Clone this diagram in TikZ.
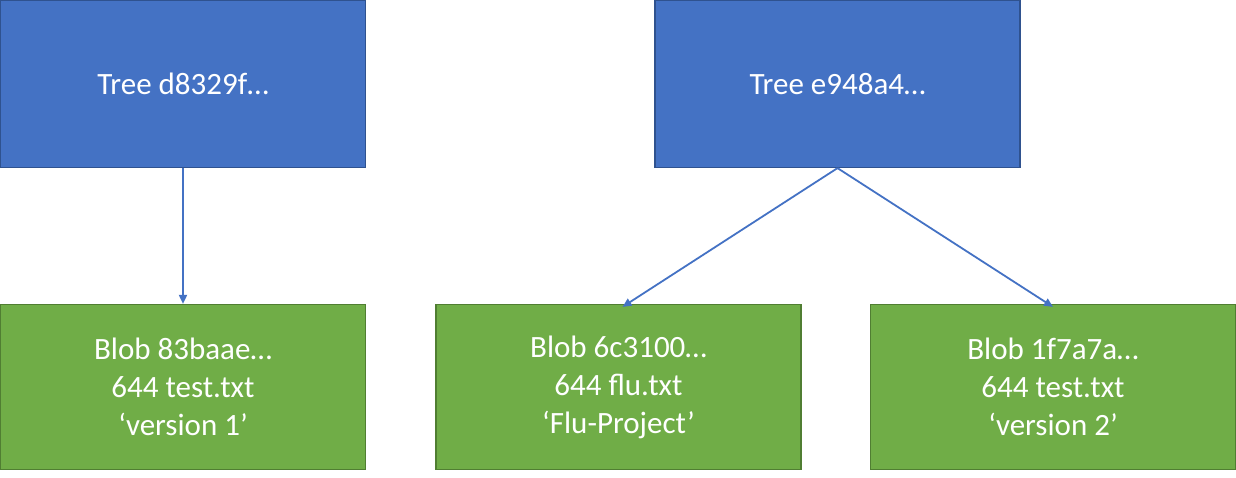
\documentclass[tikz,border=0pt]{standalone}
\usepackage{fontspec}
\setmainfont{Carlito}
\usetikzlibrary{arrows.meta}
\definecolor{tb}{HTML}{4472C4}\definecolor{tbd}{HTML}{2F528F}
\definecolor{gb}{HTML}{70AD47}\definecolor{gbd}{HTML}{507E32}
\begin{document}
\begin{tikzpicture}[x=1pt,y=-1pt,
 tree/.style={draw=tbd,fill=tb,line width=1.2pt,text=white,minimum width=365pt,minimum height=167pt,font=\fontsize{31}{38}\selectfont,inner sep=0pt,align=center},
 blob/.style={draw=gbd,fill=gb,line width=1.2pt,text=white,minimum width=365pt,minimum height=165pt,font=\fontsize{31}{38}\selectfont,inner sep=0pt,align=center},
 arr/.style={draw=tb,line width=1.8pt,-{Triangle[length=9pt,width=8pt]}}]
\useasboundingbox (0,0) rectangle (1236,477);
\node[tree] (t1) at (183,84) {Tree d8329f…};
\node[tree] (t2) at (837.5,84) {Tree e948a4…};
\node[blob] (b1) at (183,387) {Blob 83baae…\\644 test.txt\\‘version 1’};
\node[blob] (b2) at (618.5,387) {Blob 6c3100…\\644 flu.txt\\‘Flu-Project’};
\node[blob] (b3) at (1053,387) {Blob 1f7a7a…\\644 test.txt\\‘version 2’};
\draw[arr] (t1.south) -- (b1.north);
\draw[arr] (t2.south) -- ([xshift=4pt,yshift=-3pt]b2.north);
\draw[arr] (t2.south) -- ([yshift=-3pt]b3.north);
\end{tikzpicture}
\end{document}
